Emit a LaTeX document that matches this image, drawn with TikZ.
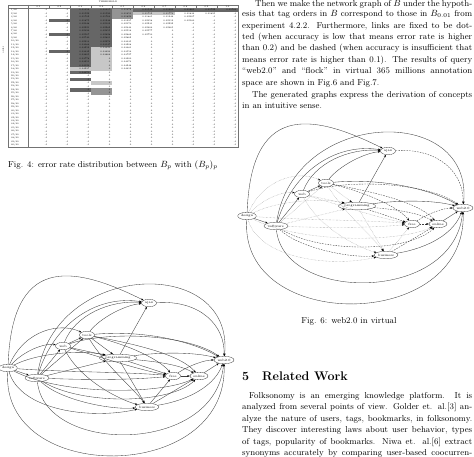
\documentclass[tikz,border=0pt]{standalone}
\usepackage{fontspec}
\usetikzlibrary{shapes.geometric,arrows.meta}
\tikzset{
 body/.style={font=\fontsize{8.6}{11.65}\selectfont, inner sep=0pt, anchor=base west},
 cellt/.style={font=\fontsize{2.2}{2.4}\selectfont, inner sep=0pt},
 tagnode/.style={ellipse, draw=black!80, line width=0.3pt, inner xsep=0.6pt, inner ysep=0.2pt, minimum height=7.5pt, minimum width=15pt, font=\fontsize{3.2}{3.2}\selectfont},
 gedge/.style={draw=black!75, line width=0.35pt, -{Stealth[length=2.6pt,width=1.9pt,color=black]}},
 Ls/.style={gedge}, Ld/.style={gedge}, Lo/.style={gedge},
 Rs/.style={gedge}, Rd/.style={gedge, dash pattern=on 1.6pt off 1.1pt}, Ro/.style={gedge, draw=black!40, dash pattern=on 0.5pt off 0.9pt},
 dkcell/.style={fill=black!60}, mdcell/.style={fill=black!42}, ltcell/.style={fill=black!22},
 tabline/.style={draw=black!55, line width=0.2pt},
}
\newcommand\mkgraph[1]{%
\node[tagnode] (#1aj) at (149,303) {ajax};
\node[tagnode] (#1to) at (87,335) {tools};
\node[tagnode] (#1we) at (63,346) {web};
\node[tagnode, minimum width=26pt] (#1pr) at (118,358) {programming};
\node[tagnode] (#1de) at (8,368) {design};
\node[tagnode, minimum width=19pt] (#1so) at (37,378) {software};
\node[tagnode] (#1fr) at (173,376) {free};
\node[tagnode, minimum width=17pt] (#1on) at (199,376) {online};
\node[tagnode, minimum width=19pt] (#1w2) at (224,360) {web2.0};
\node[tagnode, minimum width=21pt] (#1bu) at (147,407) {business};
\draw[#1s] (#1de) .. controls (12,258) and (69,263) .. (#1aj);
\draw[#1s] (#1so) .. controls (55,260) and (235,255) .. (#1w2);
\draw[#1s] (#1de) .. controls (0,485) and (228,485) .. (#1w2);
\draw[#1s] (#1so) .. controls (45,455) and (215,455) .. (#1w2);
\draw[#1s] (#1de) -- (#1so);
\draw[#1o] (#1de) .. controls (25,350) and (45,343) .. (#1we);
\draw[#1o] (#1de) .. controls (25,330) and (60,322) .. (#1to);
\draw[#1o] (#1de) .. controls (40,352) and (85,350) .. (#1pr);
\draw[#1o] (#1de) .. controls (60,372) and (130,372) .. (#1fr);
\draw[#1o] (#1de) .. controls (60,395) and (160,395) .. (#1on);
\draw[#1o] (#1de) .. controls (20,410) and (90,420) .. (#1bu);
\draw[#1s] (#1so) -- (#1we);
\draw[#1o] (#1so) -- (#1to);
\draw[#1s] (#1so) .. controls (55,320) and (100,295) .. (#1aj);
\draw[#1o] (#1so) -- (#1pr);
\draw[#1o] (#1so) .. controls (90,380) and (130,380) .. (#1fr);
\draw[#1d] (#1so) .. controls (80,405) and (170,405) .. (#1on);
\draw[#1d] (#1so) .. controls (60,400) and (110,410) .. (#1bu);
\draw[#1s] (#1we) -- (#1to);
\draw[#1s] (#1we) .. controls (75,315) and (110,300) .. (#1aj);
\draw[#1o] (#1we) -- (#1pr);
\draw[#1o] (#1we) .. controls (110,360) and (140,370) .. (#1fr);
\draw[#1o] (#1we) .. controls (80,380) and (120,400) .. (#1bu);
\draw[#1d] (#1we) .. controls (110,330) and (190,335) .. (#1w2);
\draw[#1s] (#1to) .. controls (100,318) and (125,305) .. (#1aj);
\draw[#1o] (#1to) -- (#1pr);
\draw[#1d] (#1to) .. controls (130,345) and (160,360) .. (#1fr);
\draw[#1d] (#1to) .. controls (140,345) and (180,355) .. (#1on);
\draw[#1s] (#1to) .. controls (140,330) and (190,340) .. (#1w2);
\draw[#1o] (#1to) .. controls (105,365) and (135,390) .. (#1bu);
\draw[#1s] (#1pr) -- (#1aj);
\draw[#1d] (#1pr) -- (#1fr);
\draw[#1d] (#1pr) .. controls (160,362) and (180,365) .. (#1on);
\draw[#1s] (#1pr) .. controls (160,352) and (195,352) .. (#1w2);
\draw[#1o] (#1pr) -- (#1bu);
\draw[#1d] (#1fr) -- (#1on);
\draw[#1d] (#1fr) .. controls (190,365) and (205,360) .. (#1w2);
\draw[#1s] (#1on) -- (#1w2);
\draw[#1o] (#1bu) -- (#1fr);
\draw[#1d] (#1bu) -- (#1on);
\draw[#1s] (#1bu) .. controls (190,400) and (215,385) .. (#1w2);
\draw[#1d] (#1aj) .. controls (200,300) and (225,325) .. (#1w2);
}
\begin{document}
\begin{tikzpicture}[x=1pt,y=-1pt]
\useasboundingbox (0,0) rectangle (474,457);
\clip (0,0) rectangle (474,457);
\fill[white] (0,0) rectangle (474,457);
% ---------- table ----------
\foreach \c/\a/\b/\st in {3/1/17/dkcell,3/18/18/ltcell,3/19/19/dkcell,3/21/21/dkcell,3/24/24/dkcell,
  4/1/11/dkcell,4/12/18/ltcell,4/22/22/ltcell,4/24/25/mdcell,
  5/1/3/mdcell,6/1/1/dkcell,7/1/1/dkcell,8/1/1/dkcell,9/1/1/dkcell,10/1/1/dkcell,
  6/2/2/ltcell,7/2/2/ltcell,
  2/4/4/dkcell,2/8/8/dkcell,2/13/13/dkcell}{
  \fill[\st] ({28+21*\c-21},{8.5+(\a-1)*3.46}) rectangle ({28+21*\c},{8.5+\b*3.46});
}
\draw[tabline] (8,5) rectangle (238,147);
\draw[tabline] (8,8.5) -- (238,8.5);
\draw[tabline] (28,5) -- (28,147);
\foreach \k in {1,...,9}{\draw[tabline] ({28+21*\k},5) -- ({28+21*\k},8.5);}
\node[cellt] (title) at (108,2.2) {THRESHOLD};
\node[cellt, rotate=90] (vlab) at (3,50) {order};
\foreach \c in {1,...,9}{\node[cellt] at ({17.5+21*\c},6.8) {0.\c};}
\node[cellt] (h10) at (227.5,6.8) {1.0};
\foreach \r in {1,...,40}{
  \pgfmathsetmacro\yy{8.5+(\r-0.5)*3.46}
  \node[cellt, anchor=west] at (11,\yy) {\r/40};
  \foreach \c/\lm/\dv in {1/0/-1,2/0/-1,3/19/-1,4/14/0,5/18/0,6/8/0,7/6/0,8/4/-1,9/2/-1,10/1/-1}{
    \pgfmathsetmacro\xx{28+21*\c-1.5}
    \ifnum\r>\lm\relax
      \node[cellt, anchor=east] at (\xx,\yy) {\dv};
    \else
      \node[cellt, anchor=east] at (\xx,\yy) {0.0\number\numexpr 1000+\r*173+\c*61\relax};
    \fi
  }
}
\node[body] (cap4) at (8,168) {Fig. 4: error rate distribution between $B_p$ with $(B_p)_p$};
% ---------- right column text ----------
\node[body] (t1) at (255,7) {\makebox[217pt][s]{Then we make the network graph of $B$ under the hypoth-}};
\node[body] (t2) at (242,17) {\makebox[230pt][s]{esis that tag orders in $B$ correspond to those in $B_{0.01}$ from}};
\node[body] (t3) at (242,28.3) {\makebox[230pt][s]{experiment 4.2.2. Furthermore, links are fixed to be dot-}};
\node[body] (t4) at (242,39.6) {\makebox[230pt][s]{ted (when accuracy is low that means error rate is higher}};
\node[body] (t5) at (242,51) {\makebox[230pt][s]{than 0.2) and be dashed (when accuracy is insufficient that}};
\node[body] (t6) at (242,62.5) {\makebox[230pt][s]{means error rate is higher than 0.1). The results of query}};
\node[body] (t7) at (242,74) {\makebox[230pt][s]{“web2.0” and “flock” in virtual 365 millions annotation}};
\node[body] (t8) at (242,85.6) {space are shown in Fig.6 and Fig.7.};
\node[body] (t9) at (252,97.3) {\makebox[220pt][s]{The generated graphs express the derivation of concepts}};
\node[body] (t10) at (242,109) {in an intuitive sense.};
% ---------- graphs ----------
\mkgraph{L}
\begin{scope}[shift={(239,-152)}]
\mkgraph{R}
\end{scope}
\node[body, anchor=base] (cap6) at (349,323) {Fig. 6: web2.0 in virtual};
% ---------- section ----------
\node[anchor=base west, inner sep=0pt, font=\fontsize{12.5}{14}\selectfont\bfseries] (h5) at (242,380) {5};
\node[anchor=base west, inner sep=0pt, font=\fontsize{12.5}{14}\selectfont\bfseries] (hrw) at (262,380) {Related Work};
\node[body] (p1) at (249,398) {\makebox[223pt][s]{Folksonomy is an emerging knowledge platform. It is}};
\node[body] (p2) at (242,409.5) {\makebox[230pt][s]{analyzed from several points of view. Golder et. al.[3] an-}};
\node[body] (p3) at (242,421) {\makebox[230pt][s]{alyze the nature of users, tags, bookmarks, in folksonomy.}};
\node[body] (p4) at (242,432.5) {\makebox[230pt][s]{They discover interesting laws about user behavior, types}};
\node[body] (p5) at (242,444) {\makebox[230pt][s]{of tags, popularity of bookmarks. Niwa et. al.[6] extract}};
\node[body] (p6) at (242,455) {\makebox[230pt][s]{synonyms accurately by comparing user-based coocurren-}};
\end{tikzpicture}
\end{document}
